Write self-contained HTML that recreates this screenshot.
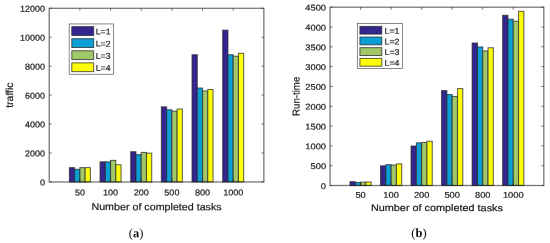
<!DOCTYPE html>
<html><head><meta charset="utf-8"><title>Figure</title>
<style>html,body{margin:0;padding:0;background:#fff}svg{display:block}</style></head>
<body>
<svg width="550" height="243" viewBox="0 0 550 243" style="text-rendering:geometricPrecision" font-family="Liberation Sans, Arial, sans-serif" fill="#1a1a1a" stroke="#1a1a1a" stroke-width="0.2">
<rect x="69.41" y="167.63" width="5.25" height="14.32" fill="#34268f" stroke="#26262a" stroke-width="1.05" stroke-opacity="0.72"/>
<rect x="74.66" y="169.37" width="5.25" height="12.58" fill="#0a9ed5" stroke="#26262a" stroke-width="1.05" stroke-opacity="0.72"/>
<rect x="79.91" y="167.63" width="5.25" height="14.32" fill="#a1c769" stroke="#26262a" stroke-width="1.05" stroke-opacity="0.72"/>
<rect x="85.16" y="167.63" width="5.25" height="14.32" fill="#fdfd06" stroke="#26262a" stroke-width="1.05" stroke-opacity="0.72"/>
<rect x="100.06" y="161.84" width="5.25" height="20.11" fill="#34268f" stroke="#26262a" stroke-width="1.05" stroke-opacity="0.72"/>
<rect x="105.31" y="161.84" width="5.25" height="20.11" fill="#0a9ed5" stroke="#26262a" stroke-width="1.05" stroke-opacity="0.72"/>
<rect x="110.56" y="160.39" width="5.25" height="21.56" fill="#a1c769" stroke="#26262a" stroke-width="1.05" stroke-opacity="0.72"/>
<rect x="115.81" y="164.73" width="5.25" height="17.21" fill="#fdfd06" stroke="#26262a" stroke-width="1.05" stroke-opacity="0.72"/>
<rect x="130.72" y="151.71" width="5.25" height="30.24" fill="#34268f" stroke="#26262a" stroke-width="1.05" stroke-opacity="0.72"/>
<rect x="135.97" y="154.61" width="5.25" height="27.34" fill="#0a9ed5" stroke="#26262a" stroke-width="1.05" stroke-opacity="0.72"/>
<rect x="141.22" y="152.43" width="5.25" height="29.52" fill="#a1c769" stroke="#26262a" stroke-width="1.05" stroke-opacity="0.72"/>
<rect x="146.47" y="153.16" width="5.25" height="28.79" fill="#fdfd06" stroke="#26262a" stroke-width="1.05" stroke-opacity="0.72"/>
<rect x="161.38" y="106.85" width="5.25" height="75.10" fill="#34268f" stroke="#26262a" stroke-width="1.05" stroke-opacity="0.72"/>
<rect x="166.63" y="109.75" width="5.25" height="72.20" fill="#0a9ed5" stroke="#26262a" stroke-width="1.05" stroke-opacity="0.72"/>
<rect x="171.88" y="111.19" width="5.25" height="70.76" fill="#a1c769" stroke="#26262a" stroke-width="1.05" stroke-opacity="0.72"/>
<rect x="177.13" y="109.02" width="5.25" height="72.93" fill="#fdfd06" stroke="#26262a" stroke-width="1.05" stroke-opacity="0.72"/>
<rect x="192.04" y="54.76" width="5.25" height="127.19" fill="#34268f" stroke="#26262a" stroke-width="1.05" stroke-opacity="0.72"/>
<rect x="197.29" y="88.04" width="5.25" height="93.91" fill="#0a9ed5" stroke="#26262a" stroke-width="1.05" stroke-opacity="0.72"/>
<rect x="202.54" y="90.93" width="5.25" height="91.02" fill="#a1c769" stroke="#26262a" stroke-width="1.05" stroke-opacity="0.72"/>
<rect x="207.79" y="89.49" width="5.25" height="92.46" fill="#fdfd06" stroke="#26262a" stroke-width="1.05" stroke-opacity="0.72"/>
<rect x="222.69" y="30.16" width="5.25" height="151.79" fill="#34268f" stroke="#26262a" stroke-width="1.05" stroke-opacity="0.72"/>
<rect x="227.94" y="54.76" width="5.25" height="127.19" fill="#0a9ed5" stroke="#26262a" stroke-width="1.05" stroke-opacity="0.72"/>
<rect x="233.19" y="56.20" width="5.25" height="125.75" fill="#a1c769" stroke="#26262a" stroke-width="1.05" stroke-opacity="0.72"/>
<rect x="238.44" y="53.31" width="5.25" height="128.64" fill="#fdfd06" stroke="#26262a" stroke-width="1.05" stroke-opacity="0.72"/>
<rect x="49.25" y="8.30" width="214.60" height="173.65" fill="none" stroke="#1e1e1e" stroke-width="1.3" stroke-opacity="0.6"/>
<path d="M79.91 8.30v2.5M79.91 181.95v-2.5" stroke="#1e1e1e" stroke-width="1.0" stroke-opacity="0.6"/>
<text transform="translate(79.91 195.60) rotate(0.1) scale(1.04 1)" font-size="8.7" text-anchor="middle">50</text>
<path d="M110.56 8.30v2.5M110.56 181.95v-2.5" stroke="#1e1e1e" stroke-width="1.0" stroke-opacity="0.6"/>
<text transform="translate(110.56 195.60) rotate(0.1) scale(1.04 1)" font-size="8.7" text-anchor="middle">100</text>
<path d="M141.22 8.30v2.5M141.22 181.95v-2.5" stroke="#1e1e1e" stroke-width="1.0" stroke-opacity="0.6"/>
<text transform="translate(141.22 195.60) rotate(0.1) scale(1.04 1)" font-size="8.7" text-anchor="middle">200</text>
<path d="M171.88 8.30v2.5M171.88 181.95v-2.5" stroke="#1e1e1e" stroke-width="1.0" stroke-opacity="0.6"/>
<text transform="translate(171.88 195.60) rotate(0.1) scale(1.04 1)" font-size="8.7" text-anchor="middle">500</text>
<path d="M202.54 8.30v2.5M202.54 181.95v-2.5" stroke="#1e1e1e" stroke-width="1.0" stroke-opacity="0.6"/>
<text transform="translate(202.54 195.60) rotate(0.1) scale(1.04 1)" font-size="8.7" text-anchor="middle">800</text>
<path d="M233.19 8.30v2.5M233.19 181.95v-2.5" stroke="#1e1e1e" stroke-width="1.0" stroke-opacity="0.6"/>
<text transform="translate(233.19 195.60) rotate(0.1) scale(1.04 1)" font-size="8.7" text-anchor="middle">1000</text>
<path d="M49.25 181.95h2.5M263.85 181.95h-2.5" stroke="#1e1e1e" stroke-width="1.0" stroke-opacity="0.6"/>
<text transform="translate(45.05 185.50) rotate(0.1) scale(1.04 1)" font-size="8.7" text-anchor="end">0</text>
<path d="M49.25 153.01h2.5M263.85 153.01h-2.5" stroke="#1e1e1e" stroke-width="1.0" stroke-opacity="0.6"/>
<text transform="translate(45.05 156.56) rotate(0.1) scale(1.04 1)" font-size="8.7" text-anchor="end">2000</text>
<path d="M49.25 124.07h2.5M263.85 124.07h-2.5" stroke="#1e1e1e" stroke-width="1.0" stroke-opacity="0.6"/>
<text transform="translate(45.05 127.62) rotate(0.1) scale(1.04 1)" font-size="8.7" text-anchor="end">4000</text>
<path d="M49.25 95.12h2.5M263.85 95.12h-2.5" stroke="#1e1e1e" stroke-width="1.0" stroke-opacity="0.6"/>
<text transform="translate(45.05 98.67) rotate(0.1) scale(1.04 1)" font-size="8.7" text-anchor="end">6000</text>
<path d="M49.25 66.18h2.5M263.85 66.18h-2.5" stroke="#1e1e1e" stroke-width="1.0" stroke-opacity="0.6"/>
<text transform="translate(45.05 69.73) rotate(0.1) scale(1.04 1)" font-size="8.7" text-anchor="end">8000</text>
<path d="M49.25 37.24h2.5M263.85 37.24h-2.5" stroke="#1e1e1e" stroke-width="1.0" stroke-opacity="0.6"/>
<text transform="translate(45.05 40.79) rotate(0.1) scale(1.04 1)" font-size="8.7" text-anchor="end">10000</text>
<path d="M49.25 8.30h2.5M263.85 8.30h-2.5" stroke="#1e1e1e" stroke-width="1.0" stroke-opacity="0.6"/>
<text transform="translate(45.05 11.85) rotate(0.1) scale(1.04 1)" font-size="8.7" text-anchor="end">12000</text>
<text transform="translate(156.55 210.20) rotate(0.1) scale(1.07 1)" font-size="10.0" text-anchor="middle">Number of completed tasks</text>
<text transform="translate(13.1 95.12) rotate(-89.9) scale(1.05 1.02)" font-size="10" text-anchor="middle">traffic</text>
<rect x="69.2" y="23.95" width="44.4" height="50.3" fill="#fff" stroke="#555" stroke-width="0.7"/>
<rect x="71.80" y="26.65" width="21.9" height="8.8" fill="#34268f" stroke="#222" stroke-width="0.9" stroke-opacity="0.8"/>
<text transform="translate(95.70 34.55) rotate(0.1) scale(1.04 1)" font-size="8.4" text-anchor="start">L=1</text>
<rect x="71.80" y="38.72" width="21.9" height="8.8" fill="#0a9ed5" stroke="#222" stroke-width="0.9" stroke-opacity="0.8"/>
<text transform="translate(95.70 46.62) rotate(0.1) scale(1.04 1)" font-size="8.4" text-anchor="start">L=2</text>
<rect x="71.80" y="50.79" width="21.9" height="8.8" fill="#a1c769" stroke="#222" stroke-width="0.9" stroke-opacity="0.8"/>
<text transform="translate(95.70 58.69) rotate(0.1) scale(1.04 1)" font-size="8.4" text-anchor="start">L=3</text>
<rect x="71.80" y="62.86" width="21.9" height="8.8" fill="#fdfd06" stroke="#222" stroke-width="0.9" stroke-opacity="0.8"/>
<text transform="translate(95.70 70.76) rotate(0.1) scale(1.04 1)" font-size="8.4" text-anchor="start">L=4</text>
<rect x="349.99" y="181.69" width="5.30" height="3.81" fill="#34268f" stroke="#26262a" stroke-width="1.05" stroke-opacity="0.72"/>
<rect x="355.29" y="182.48" width="5.30" height="3.02" fill="#0a9ed5" stroke="#26262a" stroke-width="1.05" stroke-opacity="0.72"/>
<rect x="360.59" y="182.08" width="5.30" height="3.42" fill="#a1c769" stroke="#26262a" stroke-width="1.05" stroke-opacity="0.72"/>
<rect x="365.89" y="182.08" width="5.30" height="3.42" fill="#fdfd06" stroke="#26262a" stroke-width="1.05" stroke-opacity="0.72"/>
<rect x="380.52" y="165.84" width="5.30" height="19.66" fill="#34268f" stroke="#26262a" stroke-width="1.05" stroke-opacity="0.72"/>
<rect x="385.82" y="164.65" width="5.30" height="20.85" fill="#0a9ed5" stroke="#26262a" stroke-width="1.05" stroke-opacity="0.72"/>
<rect x="391.12" y="165.05" width="5.30" height="20.45" fill="#a1c769" stroke="#26262a" stroke-width="1.05" stroke-opacity="0.72"/>
<rect x="396.42" y="163.86" width="5.30" height="21.64" fill="#fdfd06" stroke="#26262a" stroke-width="1.05" stroke-opacity="0.72"/>
<rect x="411.06" y="146.03" width="5.30" height="39.47" fill="#34268f" stroke="#26262a" stroke-width="1.05" stroke-opacity="0.72"/>
<rect x="416.36" y="142.86" width="5.30" height="42.64" fill="#0a9ed5" stroke="#26262a" stroke-width="1.05" stroke-opacity="0.72"/>
<rect x="421.66" y="142.46" width="5.30" height="43.04" fill="#a1c769" stroke="#26262a" stroke-width="1.05" stroke-opacity="0.72"/>
<rect x="426.96" y="141.27" width="5.30" height="44.23" fill="#fdfd06" stroke="#26262a" stroke-width="1.05" stroke-opacity="0.72"/>
<rect x="441.59" y="90.56" width="5.30" height="94.94" fill="#34268f" stroke="#26262a" stroke-width="1.05" stroke-opacity="0.72"/>
<rect x="446.89" y="94.52" width="5.30" height="90.98" fill="#0a9ed5" stroke="#26262a" stroke-width="1.05" stroke-opacity="0.72"/>
<rect x="452.19" y="96.50" width="5.30" height="89.00" fill="#a1c769" stroke="#26262a" stroke-width="1.05" stroke-opacity="0.72"/>
<rect x="457.49" y="88.58" width="5.30" height="96.92" fill="#fdfd06" stroke="#26262a" stroke-width="1.05" stroke-opacity="0.72"/>
<rect x="472.13" y="43.01" width="5.30" height="142.49" fill="#34268f" stroke="#26262a" stroke-width="1.05" stroke-opacity="0.72"/>
<rect x="477.43" y="46.97" width="5.30" height="138.53" fill="#0a9ed5" stroke="#26262a" stroke-width="1.05" stroke-opacity="0.72"/>
<rect x="482.73" y="50.93" width="5.30" height="134.57" fill="#a1c769" stroke="#26262a" stroke-width="1.05" stroke-opacity="0.72"/>
<rect x="488.03" y="47.76" width="5.30" height="137.74" fill="#fdfd06" stroke="#26262a" stroke-width="1.05" stroke-opacity="0.72"/>
<rect x="502.66" y="15.27" width="5.30" height="170.23" fill="#34268f" stroke="#26262a" stroke-width="1.05" stroke-opacity="0.72"/>
<rect x="507.96" y="19.24" width="5.30" height="166.26" fill="#0a9ed5" stroke="#26262a" stroke-width="1.05" stroke-opacity="0.72"/>
<rect x="513.26" y="21.22" width="5.30" height="164.28" fill="#a1c769" stroke="#26262a" stroke-width="1.05" stroke-opacity="0.72"/>
<rect x="518.56" y="11.31" width="5.30" height="174.19" fill="#fdfd06" stroke="#26262a" stroke-width="1.05" stroke-opacity="0.72"/>
<rect x="330.05" y="7.20" width="213.75" height="178.30" fill="none" stroke="#1e1e1e" stroke-width="1.3" stroke-opacity="0.6"/>
<path d="M360.59 7.20v2.5M360.59 185.50v-2.5" stroke="#1e1e1e" stroke-width="1.0" stroke-opacity="0.6"/>
<text transform="translate(360.59 197.85) rotate(0.1) scale(1.12 1)" font-size="8.3" text-anchor="middle">50</text>
<path d="M391.12 7.20v2.5M391.12 185.50v-2.5" stroke="#1e1e1e" stroke-width="1.0" stroke-opacity="0.6"/>
<text transform="translate(391.12 197.85) rotate(0.1) scale(1.12 1)" font-size="8.3" text-anchor="middle">100</text>
<path d="M421.66 7.20v2.5M421.66 185.50v-2.5" stroke="#1e1e1e" stroke-width="1.0" stroke-opacity="0.6"/>
<text transform="translate(421.66 197.85) rotate(0.1) scale(1.12 1)" font-size="8.3" text-anchor="middle">200</text>
<path d="M452.19 7.20v2.5M452.19 185.50v-2.5" stroke="#1e1e1e" stroke-width="1.0" stroke-opacity="0.6"/>
<text transform="translate(452.19 197.85) rotate(0.1) scale(1.12 1)" font-size="8.3" text-anchor="middle">500</text>
<path d="M482.73 7.20v2.5M482.73 185.50v-2.5" stroke="#1e1e1e" stroke-width="1.0" stroke-opacity="0.6"/>
<text transform="translate(482.73 197.85) rotate(0.1) scale(1.12 1)" font-size="8.3" text-anchor="middle">800</text>
<path d="M513.26 7.20v2.5M513.26 185.50v-2.5" stroke="#1e1e1e" stroke-width="1.0" stroke-opacity="0.6"/>
<text transform="translate(513.26 197.85) rotate(0.1) scale(1.12 1)" font-size="8.3" text-anchor="middle">1000</text>
<path d="M330.05 185.50h2.5M543.80 185.50h-2.5" stroke="#1e1e1e" stroke-width="1.0" stroke-opacity="0.6"/>
<text transform="translate(326.05 188.90) rotate(0.1) scale(1.12 1)" font-size="8.3" text-anchor="end">0</text>
<path d="M330.05 165.69h2.5M543.80 165.69h-2.5" stroke="#1e1e1e" stroke-width="1.0" stroke-opacity="0.6"/>
<text transform="translate(326.05 169.09) rotate(0.1) scale(1.12 1)" font-size="8.3" text-anchor="end">500</text>
<path d="M330.05 145.88h2.5M543.80 145.88h-2.5" stroke="#1e1e1e" stroke-width="1.0" stroke-opacity="0.6"/>
<text transform="translate(326.05 149.28) rotate(0.1) scale(1.12 1)" font-size="8.3" text-anchor="end">1000</text>
<path d="M330.05 126.07h2.5M543.80 126.07h-2.5" stroke="#1e1e1e" stroke-width="1.0" stroke-opacity="0.6"/>
<text transform="translate(326.05 129.47) rotate(0.1) scale(1.12 1)" font-size="8.3" text-anchor="end">1500</text>
<path d="M330.05 106.26h2.5M543.80 106.26h-2.5" stroke="#1e1e1e" stroke-width="1.0" stroke-opacity="0.6"/>
<text transform="translate(326.05 109.66) rotate(0.1) scale(1.12 1)" font-size="8.3" text-anchor="end">2000</text>
<path d="M330.05 86.44h2.5M543.80 86.44h-2.5" stroke="#1e1e1e" stroke-width="1.0" stroke-opacity="0.6"/>
<text transform="translate(326.05 89.84) rotate(0.1) scale(1.12 1)" font-size="8.3" text-anchor="end">2500</text>
<path d="M330.05 66.63h2.5M543.80 66.63h-2.5" stroke="#1e1e1e" stroke-width="1.0" stroke-opacity="0.6"/>
<text transform="translate(326.05 70.03) rotate(0.1) scale(1.12 1)" font-size="8.3" text-anchor="end">3000</text>
<path d="M330.05 46.82h2.5M543.80 46.82h-2.5" stroke="#1e1e1e" stroke-width="1.0" stroke-opacity="0.6"/>
<text transform="translate(326.05 50.22) rotate(0.1) scale(1.12 1)" font-size="8.3" text-anchor="end">3500</text>
<path d="M330.05 27.01h2.5M543.80 27.01h-2.5" stroke="#1e1e1e" stroke-width="1.0" stroke-opacity="0.6"/>
<text transform="translate(326.05 30.41) rotate(0.1) scale(1.12 1)" font-size="8.3" text-anchor="end">4000</text>
<path d="M330.05 7.20h2.5M543.80 7.20h-2.5" stroke="#1e1e1e" stroke-width="1.0" stroke-opacity="0.6"/>
<text transform="translate(326.05 10.60) rotate(0.1) scale(1.12 1)" font-size="8.3" text-anchor="end">4500</text>
<text transform="translate(436.92 211.05) rotate(0.1) scale(1.13 1)" font-size="9.6" text-anchor="middle">Number of completed tasks</text>
<text transform="translate(299.6 96.35) rotate(-89.9) scale(0.97 1.0)" font-size="10" text-anchor="middle">Run-time</text>
<rect x="357.3" y="23.5" width="45.2" height="45.1" fill="#fff" stroke="#555" stroke-width="0.7"/>
<rect x="359.90" y="26.35" width="21.9" height="7.8" fill="#34268f" stroke="#222" stroke-width="0.9" stroke-opacity="0.8"/>
<text transform="translate(384.50 33.75) rotate(0.1) scale(1.06 1)" font-size="8.3" text-anchor="start">L=1</text>
<rect x="359.90" y="37.02" width="21.9" height="7.8" fill="#0a9ed5" stroke="#222" stroke-width="0.9" stroke-opacity="0.8"/>
<text transform="translate(384.50 44.42) rotate(0.1) scale(1.06 1)" font-size="8.3" text-anchor="start">L=2</text>
<rect x="359.90" y="47.69" width="21.9" height="7.8" fill="#a1c769" stroke="#222" stroke-width="0.9" stroke-opacity="0.8"/>
<text transform="translate(384.50 55.09) rotate(0.1) scale(1.06 1)" font-size="8.3" text-anchor="start">L=3</text>
<rect x="359.90" y="58.36" width="21.9" height="7.8" fill="#fdfd06" stroke="#222" stroke-width="0.9" stroke-opacity="0.8"/>
<text transform="translate(384.50 65.76) rotate(0.1) scale(1.06 1)" font-size="8.3" text-anchor="start">L=4</text>
<g font-family="Liberation Serif, Times New Roman, serif" font-size="12.6" fill="#111" stroke="none" text-anchor="middle">
<text transform="translate(136.2 237.3) rotate(0.1)">(<tspan font-weight="bold">a</tspan>)</text>
<text transform="translate(418.9 237.0) rotate(0.1)">(<tspan font-weight="bold">b</tspan>)</text>
</g></svg>
</body></html>
